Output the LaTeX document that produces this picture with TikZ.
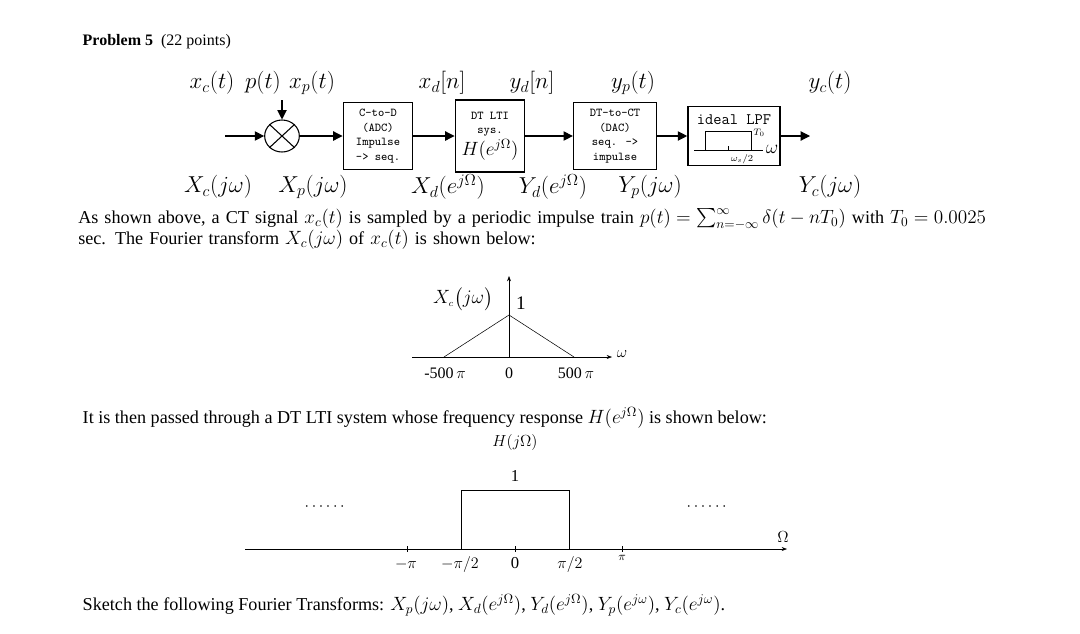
\documentclass[tikz,border=0pt]{standalone}
\usepackage{fontspec}
\setmainfont{Liberation Serif}
\usepackage{amsmath}
\usetikzlibrary{arrows.meta, positioning, shapes.geometric}

\begin{document}
\begin{tikzpicture}[
    x=0.75pt, y=-0.75pt,
    >={Triangle[length=7pt,width=7pt]},
    blk/.style={draw, line width=1.2pt, align=center, font=\ttfamily\small, inner sep=1pt},
    sig/.style={->, thick},
    lbl/.style={font=\fontsize{16.5}{19}\selectfont},
    txt/.style={font=\fontsize{13.6}{16}\selectfont},
    hl/.style={font=\fontsize{12.5}{15}\selectfont},
    plt/.style={thin},
    axis/.style={->, >={Stealth[length=4pt]}, thin}
  ]
  \useasboundingbox (0,0) rectangle (1080,633);

  % --- titulo ---
  \node[anchor=west, font=\fontsize{12}{14}\selectfont] (prob) at (78,42) {\textbf{Problem 5}\enspace(22 points)};

  % --- diagrama de blocos ---
  \coordinate (in) at (225,136);
  \node[draw, thick, ellipse, minimum width=26, minimum height=24, inner sep=0pt] (mult) at (282,136) {};
  \draw[thick] (mult.north west) -- (mult.south east) (mult.north east) -- (mult.south west);
  \coordinate (ptop) at (282,100);
  \node[blk, minimum width=52pt, minimum height=50pt] (adc) at (378,136) {C-to-D\\(ADC)\\Impulse\\-> seq.};
  \node[blk, minimum width=52pt, minimum height=54pt] (lti) at (490,136) {DT LTI\\sys.\\[1pt]{\rmfamily\Large $H(e^{j\Omega})$}};
  \node[blk, minimum width=62pt, minimum height=50pt] (dac) at (615,136) {DT-to-CT\\(DAC)\\seq. ->\\impulse};
  \node[blk, minimum width=69pt, minimum height=44pt] (lpf) at (734,136) {};
  \coordinate (out) at (810,136);

  \draw[sig] (in) -- (mult);
  \draw[sig] (ptop) -- (mult);
  \draw[sig] (mult) -- (adc);
  \draw[sig] (adc) -- (lti);
  \draw[sig] (lti) -- (dac);
  \draw[sig] (dac) -- (lpf);
  \draw[sig] (lpf) -- (out);

  % filtro dentro do LPF
  \node[font=\ttfamily\large] (lpft) at (734,120) {ideal LPF};
  \draw[thin] (694,150) -- (763,150);
  \draw[thin] (705,150) -- (705,131) -- (751,131) -- (751,150);
  \draw[thin] (728,150) -- (728,146);
  \node[font=\scriptsize] (t0) at (759,133) {$T_0$};
  \node[font=\scriptsize] (ws) at (742,159) {$\omega_s/2$};
  \node[font=\Large] (wl) at (772,149) {$\omega$};

  % rotulos de cima
  \node[lbl] (xc) at (212,83) {$x_c(t)$};
  \node[lbl] (pt) at (263,83) {$p(t)$};
  \node[lbl] (xp) at (312,83) {$x_p(t)$};
  \node[lbl] (xd) at (442,83) {$x_d[n]$};
  \node[lbl] (yd) at (532,83) {$y_d[n]$};
  \node[lbl] (yp) at (633,83) {$y_p(t)$};
  \node[lbl] (yc) at (830,83) {$y_c(t)$};
  % rotulos de baixo
  \node[lbl] (Xc) at (218,187) {$X_c(j\omega)$};
  \node[lbl] (Xp) at (313,187) {$X_p(j\omega)$};
  \node[lbl] (Xd) at (448,187) {$X_d(e^{j\Omega})$};
  \node[lbl] (Yd) at (553,187) {$Y_d(e^{j\Omega})$};
  \node[lbl] (Yp) at (650,187) {$Y_p(j\omega)$};
  \node[lbl] (Yc) at (830,187) {$Y_c(j\omega)$};

  % --- texto ---
  \node[anchor=north west, text width=740pt, align=left, inner sep=0pt, txt] (par1) at (78,208)
    {As shown above, a CT signal $x_c(t)$ is sampled by a periodic impulse train $p(t)=\sum_{n=-\infty}^{\infty}\delta(t-nT_0)$ with $T_0=0.0025$\\sec. The Fourier transform $X_c(j\omega)$ of $x_c(t)$ is shown below:};

  % --- grafico de X_c ---
  \coordinate (xa0) at (412,357);
  \coordinate (xa1) at (612,357);
  \coordinate (ya0) at (509,357);
  \coordinate (ya1) at (509,276);
  \draw[axis] (xa0) -- (xa1);
  \draw[axis] (ya0) -- (ya1);
  \coordinate (tl) at (444,357);
  \coordinate (tp) at (509,315);
  \coordinate (tr) at (574,357);
  \draw[plt] (tl) -- (tp) -- (tr);
  \node[font=\Large] (xcl) at (463,299) {$X_{\scriptscriptstyle c}\bigl(j\omega\bigr)$};
  \node[font=\Large] (one) at (521,303) {1};
  \node[font=\large] (m500) at (445,373) {-500\,$\pi$};
  \node[font=\large] (zero) at (509,373) {0};
  \node[font=\large] (p500) at (576,373) {500\,$\pi$};
  \node[font=\large] (om) at (622,354) {$\omega$};

  \node[anchor=west, txt] (par2) at (78,418)
    {It is then passed through a DT LTI system whose frequency response $H(e^{j\Omega})$ is shown below:};

  % --- grafico de H ---
  \node[hl] (hl) at (515,442) {$H(j\Omega)$};
  \coordinate (ha0) at (245,549);
  \coordinate (ha1) at (787,549);
  \draw[axis] (ha0) -- (ha1);
  \draw[plt] (461,549) -- (461,490) -- (569,490) -- (569,549);
  \draw[plt] (407,546) -- (407,552) (515,546) -- (515,552) (622,546) -- (622,552);
  \node[hl] (h1) at (515,476) {1};
  \node[hl] (dl) at (326,507) {$\cdots\cdots$};
  \node[hl] (dr) at (708,507) {$\cdots\cdots$};
  \node[hl] (mpi) at (406,564) {$-\pi$};
  \node[hl] (mpi2) at (460,564) {$-\pi/2$};
  \node[hl] (z2) at (515,563) {0};
  \node[hl] (ppi2) at (570,564) {$\pi/2$};
  \node[font=\small] (ppi) at (622,558) {$\pi$};
  \node[hl] (Om) at (783,537) {$\Omega$};

  \node[anchor=west, txt] (par3) at (78,605)
    {Sketch the following Fourier Transforms: $X_p(j\omega)$, $X_d(e^{j\Omega})$, $Y_d(e^{j\Omega})$, $Y_p(e^{j\omega})$, $Y_c(e^{j\omega})$.};
\end{tikzpicture}
\end{document}
